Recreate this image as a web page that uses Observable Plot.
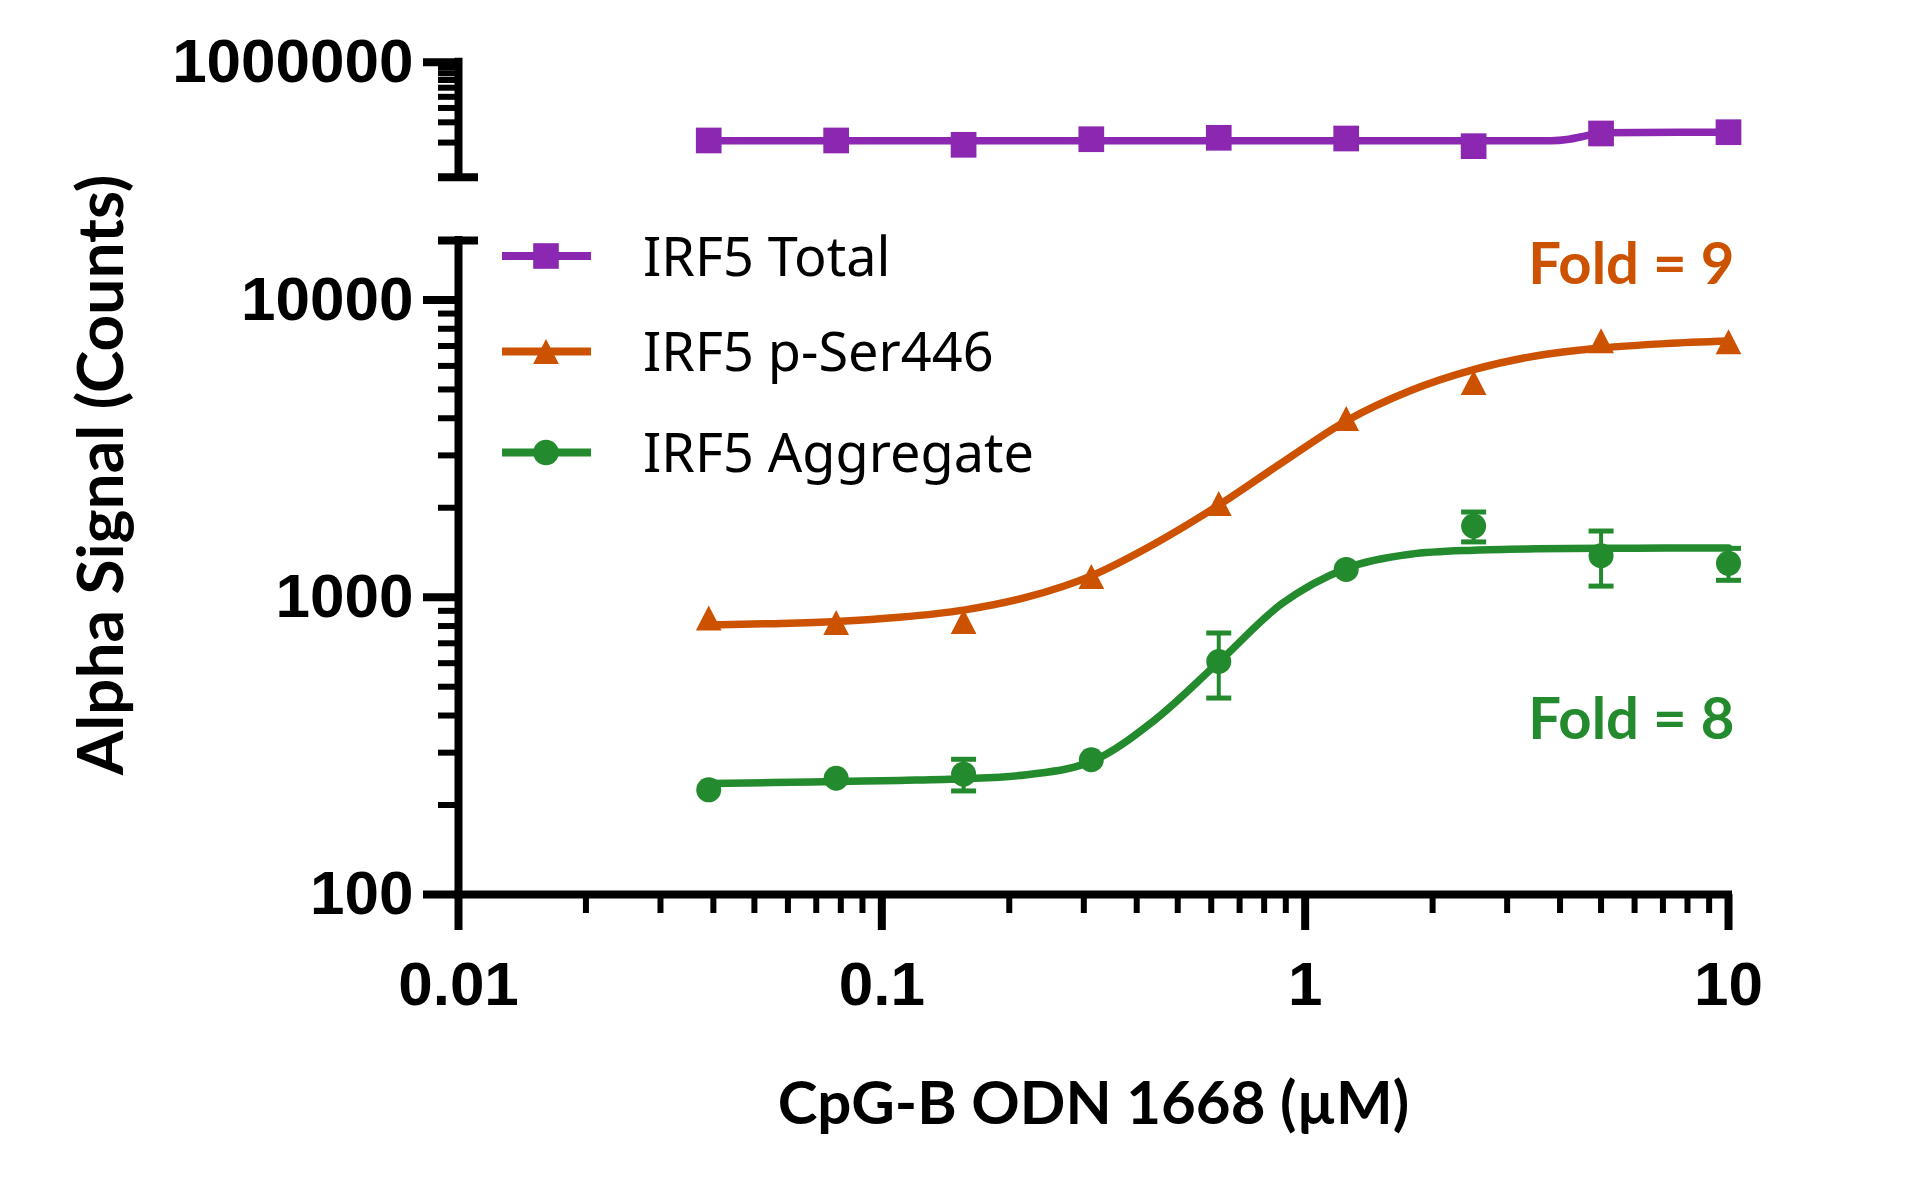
<!DOCTYPE html>
<html>
<head>
<meta charset="utf-8">
<script src="https://cdn.jsdelivr.net/npm/d3@7"></script>
<script src="https://cdn.jsdelivr.net/npm/@observablehq/plot@0.6"></script>
<style>
  html, body { margin: 0; padding: 0; background: #ffffff; }
  #chart { position: relative; width: 1920px; height: 1202px; overflow: hidden; background: #ffffff; }
  #chart > svg { position: absolute; left: 0; top: 0; }
</style>
</head>
<body>
<div id="chart"></div>
<script>
// ---------------- data ----------------
const concentrations = [0.039, 0.078, 0.156, 0.3125, 0.625, 1.25, 2.5, 5, 10];
const irf5Total      = [208600, 208600, 191300, 213900, 220100, 217000, 186100, 239900, 246200];
const irf5PSer446    = [852, 823, 829, 1175, 2068, 3996, 5280, 7285, 7228];
const irf5Aggregate  = [225, 246, 254, 284, 608, 1240, 1735, 1380, 1300];
const irf5AggregateSD = [null, null, 31, null, 150, null, 200, 290, 160];

// fitted curves
const totalFitX = [0.039, 2.5, 3.8, 4.2, 4.6, 5, 10];
const totalFitY = [207300, 207300, 207600, 214000, 229000, 244000, 246200];
const fitX = [0.039, 0.055, 0.078, 0.11, 0.156, 0.22, 0.3125, 0.44, 0.625, 0.88, 1.25, 1.77, 2.5, 3.5, 5, 7.1, 10];
const pSerFitY = [806, 815, 829, 856, 905, 1000, 1180, 1510, 2040, 2830, 3917, 4950, 5830, 6480, 6890, 7130, 7270];
const aggFitY  = [236, 238, 240, 242, 245, 253, 280, 385, 605, 950, 1250, 1395, 1440, 1455, 1460, 1463, 1465];

// axes
const xDomain = [0.01, 10];
const xMajorTicks = [0.01, 0.1, 1, 10];
const xMinorTicks = [0.02, 0.03, 0.04, 0.05, 0.06, 0.07, 0.08, 0.09,
                     0.2, 0.3, 0.4, 0.5, 0.6, 0.7, 0.8, 0.9,
                     2, 3, 4, 5, 6, 7, 8, 9];
const yLowDomain = [100, 15849];
const yLowMajorTicks = [100, 1000, 10000];
const yLowMinorTicks = [200, 300, 400, 500, 600, 700, 800, 900,
                        2000, 3000, 4000, 5000, 6000, 7000, 8000, 9000];
const yHighDomain = [100000, 1000000];
const yHighMajorTicks = [1000000];
const yHighMinorTicks = [200000, 300000, 400000, 500000, 600000, 700000, 800000, 900000];

const seriesNames = ["IRF5 Total", "IRF5 p-Ser446", "IRF5 Aggregate"];
const foldLabels = ["Fold = 9", "Fold = 8"];
const xTitle = "CpG-B ODN 1668 (µM)";
const yTitle = "Alpha Signal (Counts)";

// ---------------- styling ----------------
const W = 1920, H = 1202;
const marginLeft = 458, marginRight = 192;
const purple = "#8b27b0", orange = "#cc5200", green = "#238a2d";
const tickFont = "'Liberation Sans', Arial, Helvetica, sans-serif";
const titleFont = "Lato, 'Noto Sans', sans-serif";
const legendFont = "'Noto Sans', 'Open Sans', sans-serif";

const triangleSymbol = {
  draw(ctx, size) {
    const r = Math.sqrt(size / Math.PI);
    ctx.moveTo(0, -r); ctx.lineTo(r * 1.03, r); ctx.lineTo(-r * 1.03, r); ctx.closePath();
  }
};
const capSymbol = {
  draw(ctx, size) {
    const r = Math.sqrt(size / Math.PI);
    ctx.moveTo(-r, 0); ctx.lineTo(r, 0);
  }
};

const total = concentrations.map((c, i) => ({x: c, y: irf5Total[i]}));
const pSer = concentrations.map((c, i) => ({x: c, y: irf5PSer446[i]}));
const agg = concentrations.map((c, i) => ({x: c, y: irf5Aggregate[i], sd: irf5AggregateSD[i]}));
const aggErr = agg.filter(d => d.sd != null).map(d => ({x: d.x, lo: d.y - d.sd, hi: d.y + d.sd}));
const totalFit = totalFitX.map((x, i) => ({x, y: totalFitY[i]}));
const pSerFit = fitX.map((x, i) => ({x, y: pSerFitY[i]}));
const aggFit = fitX.map((x, i) => ({x, y: aggFitY[i]}));

const axisText = {fontSize: 62, fontWeight: "bold", fontFamily: tickFont};

// ---------------- lower segment ----------------
const lower = Plot.plot({
  width: W, height: H,
  marginLeft, marginRight, marginTop: 240, marginBottom: H - 894,
  x: {type: "log", domain: xDomain, label: null},
  y: {type: "log", domain: yLowDomain, label: null},
  style: {background: "transparent", color: "black", overflow: "visible"},
  marks: [
    Plot.ruleX([xDomain[0]], {stroke: "black", strokeWidth: 8, strokeLinecap: "square"}),
    Plot.ruleY([yLowDomain[0]], {stroke: "black", strokeWidth: 8, strokeLinecap: "square"}),
    Plot.axisX(xMajorTicks, {tickSize: 36, strokeWidth: 8, tickPadding: 30, tickFormat: d => String(d), label: null, ...axisText}),
    Plot.axisX(xMinorTicks, {tickSize: 19, strokeWidth: 6, fill: null, label: null}),
    Plot.axisY(yLowMajorTicks, {tickSize: 35, strokeWidth: 8, tickPadding: 10, tickFormat: d => String(d), label: null, ...axisText}),
    Plot.axisY(yLowMinorTicks, {tickSize: 20, strokeWidth: 6, fill: null, label: null}),
    Plot.axisY([yLowDomain[1]], {tickSize: 40, dx: 20, strokeWidth: 8, fill: null, label: null}),
    // error bars
    Plot.ruleX(aggErr, {x: "x", y1: "lo", y2: "hi", stroke: green, strokeWidth: 4}),
    Plot.dot(aggErr, {x: "x", y: "lo", symbol: capSymbol, r: 12.5, stroke: green, strokeWidth: 5, fill: "none"}),
    Plot.dot(aggErr, {x: "x", y: "hi", symbol: capSymbol, r: 12.5, stroke: green, strokeWidth: 5, fill: "none"}),
    // fitted curves
    Plot.line(pSerFit, {x: "x", y: "y", stroke: orange, strokeWidth: 7.5, curve: "monotone-x"}),
    Plot.line(aggFit, {x: "x", y: "y", stroke: green, strokeWidth: 7.5, curve: "monotone-x"}),
    // points
    Plot.dot(pSer, {x: "x", y: "y", symbol: triangleSymbol, r: 12.5, fill: orange}),
    Plot.dot(agg, {x: "x", y: "y", symbol: "circle", r: 12.5, fill: green}),
    // annotations
    Plot.text([foldLabels[0]], {text: d => d, frameAnchor: "top-right", textAnchor: "end", lineAnchor: "middle", dx: 6, dy: 25,
      fill: orange, fontSize: 58, fontWeight: "bold", fontFamily: titleFont}),
    Plot.text([foldLabels[1]], {text: d => d, frameAnchor: "top-right", textAnchor: "end", lineAnchor: "middle", dx: 6, dy: 480,
      fill: green, fontSize: 58, fontWeight: "bold", fontFamily: titleFont}),
    // titles
    Plot.text([xTitle], {text: d => d, frameAnchor: "bottom", textAnchor: "middle", lineAnchor: "bottom", dy: 229,
      fontSize: 60, fontWeight: "bold", fontFamily: titleFont, fill: "black"}),
    Plot.text([yTitle], {text: d => d, frameAnchor: "left", textAnchor: "middle", lineAnchor: "middle", rotate: -90, dx: -356, dy: -92.5,
      fontSize: 64, fontWeight: "bold", fontFamily: titleFont, fill: "black"})
  ]
});

// ---------------- upper segment ----------------
const upper = Plot.plot({
  width: W, height: 240,
  marginLeft, marginRight, marginTop: 61.7, marginBottom: 240 - 176.7,
  x: {type: "log", domain: xDomain, axis: null, label: null},
  y: {type: "log", domain: yHighDomain, label: null},
  style: {background: "transparent", color: "black", overflow: "visible"},
  marks: [
    Plot.ruleX([xDomain[0]], {stroke: "black", strokeWidth: 8, strokeLinecap: "square"}),
    Plot.axisY(yHighMajorTicks, {tickSize: 35, strokeWidth: 8, tickPadding: 10, tickFormat: d => String(d), label: null, ...axisText}),
    Plot.axisY(yHighMinorTicks, {tickSize: 20, strokeWidth: 6, fill: null, label: null}),
    Plot.axisY([yHighDomain[0]], {tickSize: 40, dx: 20, strokeWidth: 8, fill: null, label: null}),
    Plot.line(totalFit, {x: "x", y: "y", stroke: purple, strokeWidth: 7.5, curve: "monotone-x"}),
    Plot.dot(total, {x: "x", y: "y", symbol: "square", r: 14.5, fill: purple})
  ]
});

const chart = document.getElementById("chart");
chart.appendChild(lower);
chart.appendChild(upper);

// ---------------- legend ----------------
const legendItems = [
  {label: seriesNames[0], color: purple, symbol: "square"},
  {label: seriesNames[1], color: orange, symbol: "triangle"},
  {label: seriesNames[2], color: green, symbol: "circle"}
];
const rowY = [256, 351.5, 452.5];
const leg = d3.select(chart).append("svg")
  .attr("width", W).attr("height", H)
  .style("position", "absolute").style("left", 0).style("top", 0);
const rows = leg.selectAll("g").data(legendItems).join("g")
  .attr("transform", (d, i) => `translate(0,${rowY[i]})`);
rows.append("line").attr("x1", 502).attr("x2", 591).attr("y1", 0).attr("y2", 0)
  .attr("stroke", d => d.color).attr("stroke-width", 8);
rows.each(function (d) {
  const g = d3.select(this);
  if (d.symbol === "square") g.append("rect").attr("x", 546 - 12.8).attr("y", -12.8).attr("width", 25.6).attr("height", 25.6).attr("fill", d.color);
  else if (d.symbol === "triangle") g.append("path").attr("d", "M546,-12.5L558.9,12.5L533.1,12.5Z").attr("fill", d.color);
  else g.append("circle").attr("cx", 546).attr("cy", 0).attr("r", 12.8).attr("fill", d.color);
});
rows.append("text").attr("x", 643).attr("y", 19.5).text(d => d.label)
  .attr("font-family", legendFont).attr("font-size", 54).attr("fill", "black");
</script>
</body>
</html>
